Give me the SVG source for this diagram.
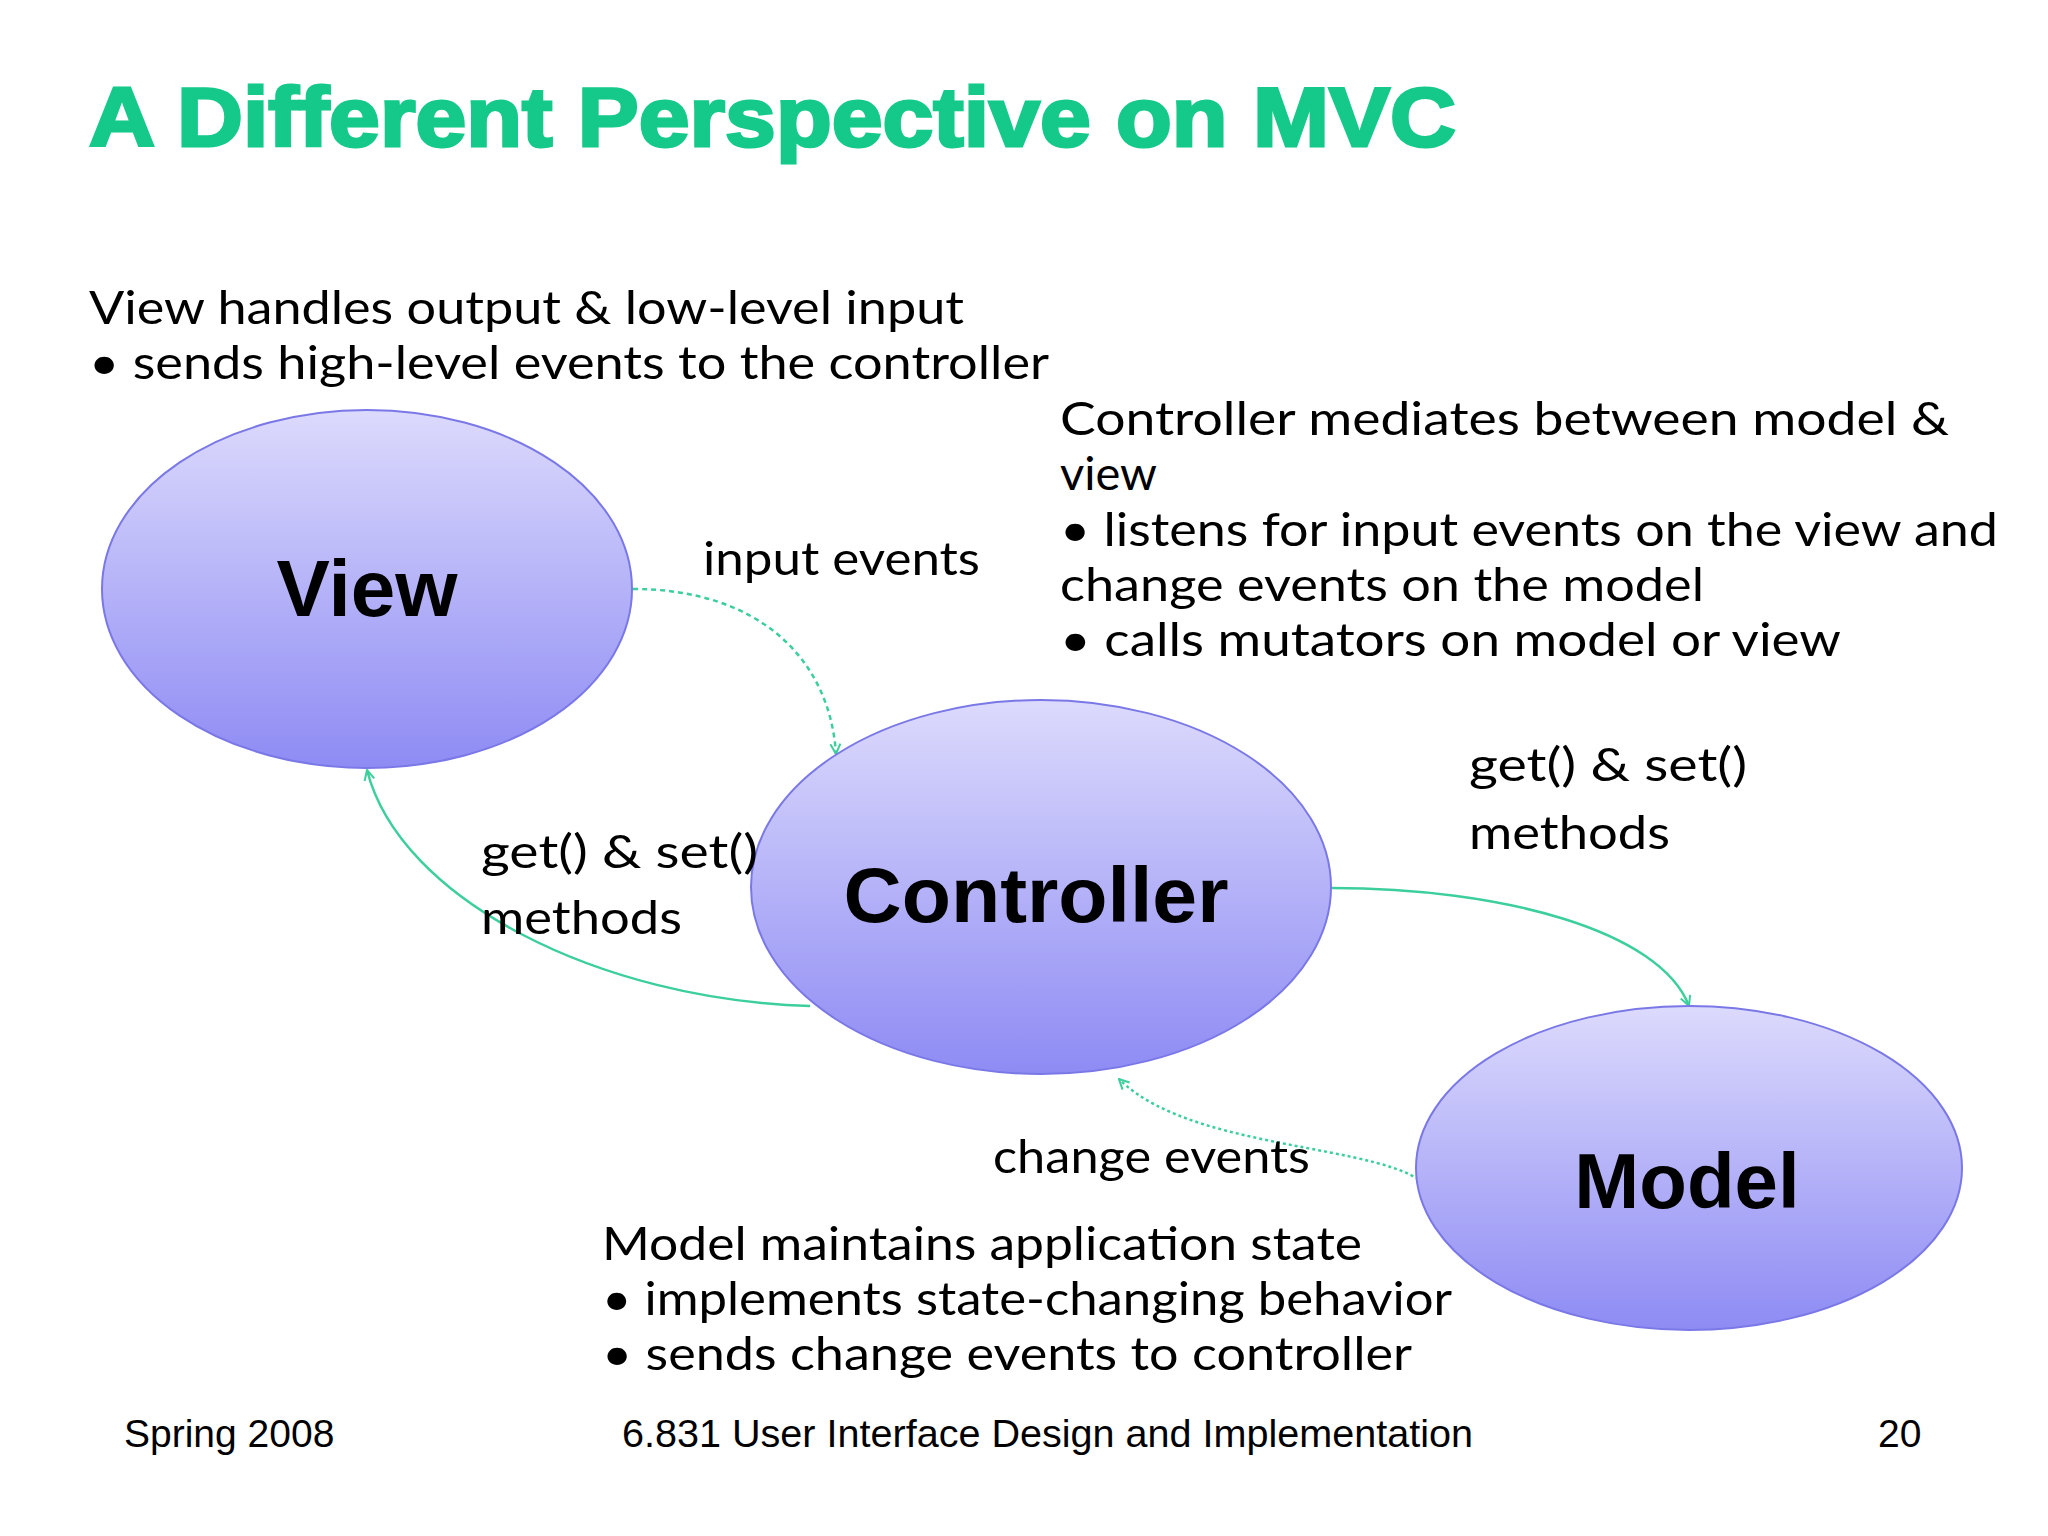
<svg xmlns="http://www.w3.org/2000/svg" width="2048" height="1536" viewBox="0 0 2048 1536">
<style>
.b{font-family:Lato,"Open Sans",sans-serif;font-size:47px;fill:#000}
.n{font-family:"Liberation Sans",Arial,sans-serif;font-weight:900;fill:#000}
.f{font-family:"Liberation Sans",Arial,sans-serif;font-size:39px;fill:#000}
.e{fill:url(#g);stroke:#7a78e6;stroke-width:2}
.c{fill:none;stroke:#3ccf9c;stroke-width:2.5}
</style>
<defs>
<linearGradient id="g" x1="0" y1="0" x2="0" y2="1"><stop offset="0" stop-color="#dcdafc"/><stop offset="1" stop-color="#8e8bf4"/></linearGradient>
<marker id="a" viewBox="0 0 12 12" refX="11" refY="6" markerWidth="12" markerHeight="12" markerUnits="userSpaceOnUse" orient="auto"><path d="M1,1 L11,6 L1,11" fill="none" stroke="#3ccf9c" stroke-width="2"/></marker>
</defs>
<rect width="2048" height="1536" fill="#fff"/>
<text x="89" y="146" font-family="Liberation Sans,Arial,sans-serif" font-weight="900" font-size="84" fill="#14c98a" stroke="#14c98a" stroke-width="3" textLength="1367" lengthAdjust="spacingAndGlyphs">A Different Perspective on MVC</text>
<text class="b" x="89" y="324" textLength="875" lengthAdjust="spacingAndGlyphs">View handles output &amp; low-level input</text>
<text class="b" x="89" y="379" textLength="960" lengthAdjust="spacingAndGlyphs">• sends high-level events to the controller</text>
<text class="b" x="1060" y="435" textLength="889" lengthAdjust="spacingAndGlyphs">Controller mediates between model &amp;</text>
<text class="b" x="1060" y="490">view</text>
<text class="b" x="1060" y="546" textLength="938" lengthAdjust="spacingAndGlyphs">• listens for input events on the view and</text>
<text class="b" x="1060" y="601" textLength="644" lengthAdjust="spacingAndGlyphs">change events on the model</text>
<text class="b" x="1060" y="656" textLength="781" lengthAdjust="spacingAndGlyphs">• calls mutators on model or view</text>
<g id="connectors">
<path class="c" stroke-dasharray="5,4" d="M633,589 C760,589 830,660 836,754" marker-end="url(#a)"/>
<path class="c" d="M810,1006 C600,1000 400,900 367,770" marker-end="url(#a)"/>
<path class="c" d="M1332,888 C1500,888 1660,930 1689,1006" marker-end="url(#a)"/>
<path class="c" stroke-dasharray="3,3" d="M1435,1203 C1430,1140 1200,1160 1119,1079" marker-end="url(#a)"/>
</g>
<g id="view"><ellipse class="e" cx="367" cy="589" rx="265" ry="179"/><text class="n" x="367" y="616" font-size="80" text-anchor="middle">View</text></g>
<g id="controller"><ellipse class="e" cx="1041" cy="887" rx="290" ry="187"/><text class="n" x="1036" y="922" font-size="78" text-anchor="middle" textLength="385" lengthAdjust="spacingAndGlyphs">Controller</text></g>
<g id="model"><ellipse class="e" cx="1689" cy="1168" rx="273" ry="162"/><text class="n" x="1687" y="1208" font-size="78" text-anchor="middle">Model</text></g>
<text class="b" x="703" y="575" textLength="277" lengthAdjust="spacingAndGlyphs">input events</text>
<text class="b" x="481" y="868" textLength="277" lengthAdjust="spacingAndGlyphs">get() &amp; set()</text>
<text class="b" x="481" y="934" textLength="201" lengthAdjust="spacingAndGlyphs">methods</text>
<text class="b" x="1469" y="781" textLength="278" lengthAdjust="spacingAndGlyphs">get() &amp; set()</text>
<text class="b" x="1469" y="849" textLength="201" lengthAdjust="spacingAndGlyphs">methods</text>
<text class="b" x="993" y="1173" textLength="317" lengthAdjust="spacingAndGlyphs">change events</text>
<text class="b" x="602" y="1260" textLength="760" lengthAdjust="spacingAndGlyphs">Model maintains application state</text>
<text class="b" x="602" y="1315" textLength="850" lengthAdjust="spacingAndGlyphs">• implements state-changing behavior</text>
<text class="b" x="602" y="1370" textLength="810" lengthAdjust="spacingAndGlyphs">• sends change events to controller</text>
<text class="f" x="124" y="1447">Spring 2008</text>
<text class="f" x="622" y="1447" textLength="851" lengthAdjust="spacingAndGlyphs">6.831 User Interface Design and Implementation</text>
<text class="f" x="1878" y="1447">20</text>
</svg>
